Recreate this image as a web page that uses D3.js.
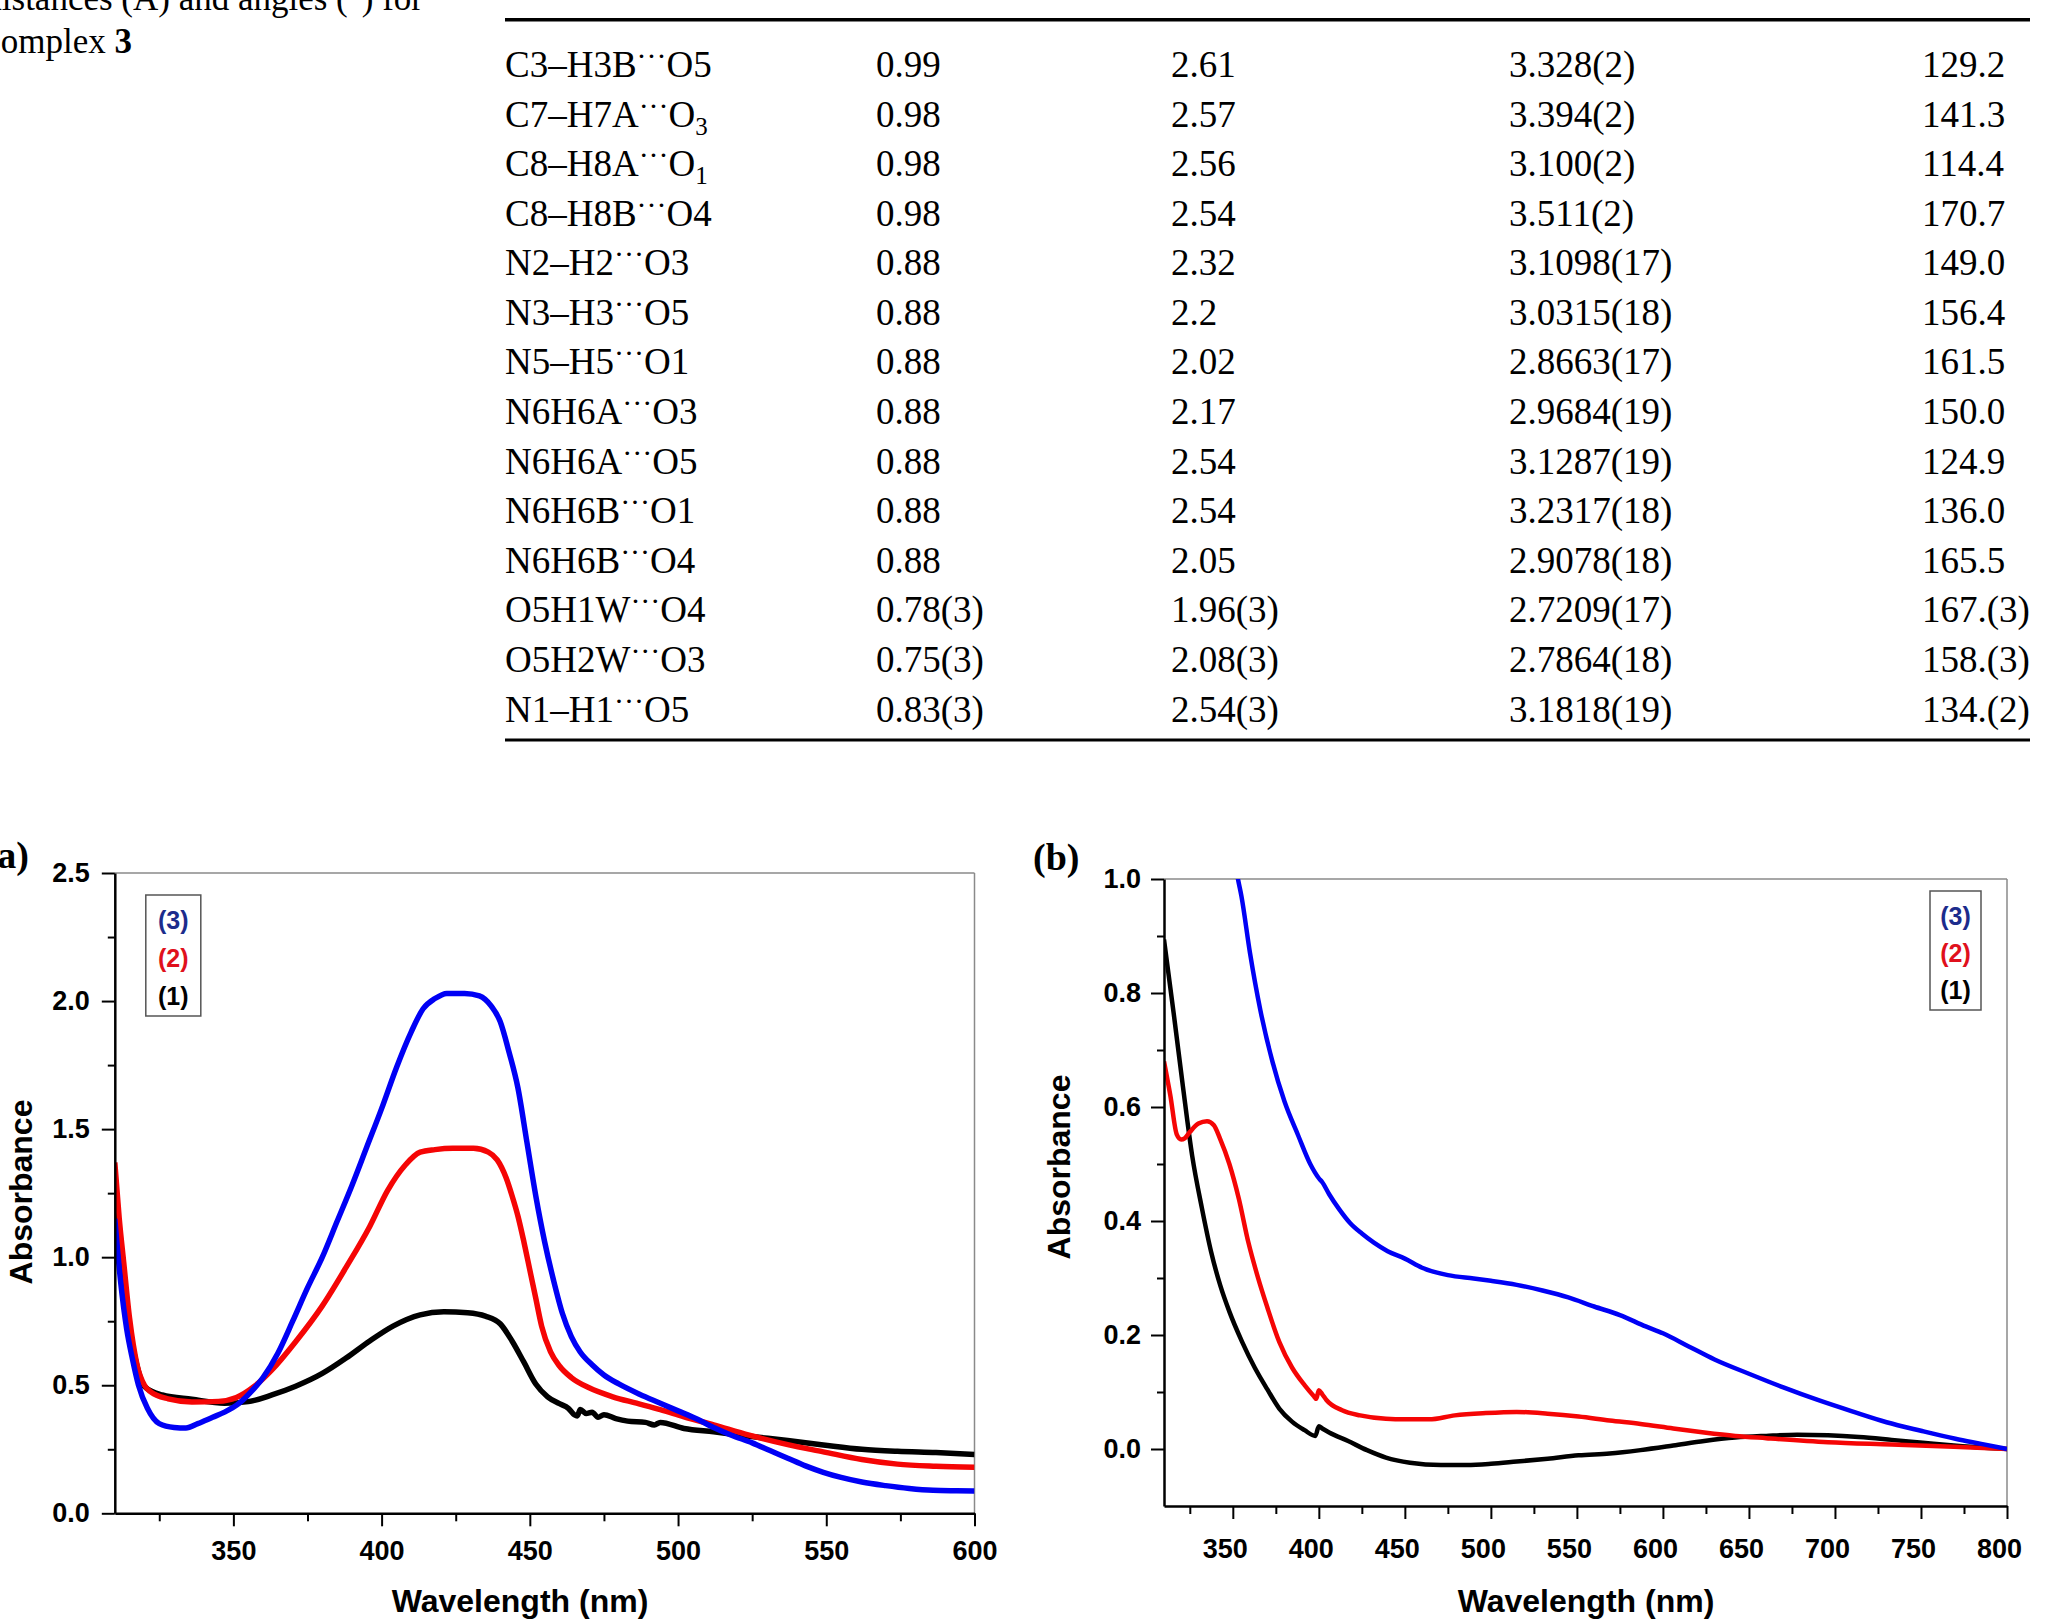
<!DOCTYPE html>
<html>
<head>
<meta charset="utf-8">
<script src="https://cdn.jsdelivr.net/npm/d3@7"></script>
<style>
  body { margin: 0; background: #fff; }
  svg { display: block; background: #fff; }
  .tick text { font-family: "Liberation Sans", Arial, sans-serif; font-weight: bold; font-size: 27px; fill: #000; }
  .axis path, .axis line { stroke: #000; }
  .axis-title { font-family: "Liberation Sans", Arial, sans-serif; font-weight: bold; font-size: 32px; fill: #000; }
  .legend-text { font-family: "Liberation Sans", Arial, sans-serif; font-weight: bold; font-size: 25px; }
  .serif { font-family: "Liberation Serif", "Times New Roman", serif; font-size: 37px; fill: #000; }
  .caption { font-family: "Liberation Serif", "Times New Roman", serif; font-size: 35px; fill: #000; }
  .panel-label { font-family: "Liberation Serif", "Times New Roman", serif; font-weight: bold; font-size: 38px; }
</style>
</head>
<body>
<svg id="figure" width="2059" height="1623"></svg>
<script>

// ---- table data (hydrogen bonds, complex 3) ----
const bondDonor = ["C3–H3B","C7–H7A","C8–H8A","C8–H8B","N2–H2","N3–H3","N5–H5","N6H6A","N6H6A","N6H6B","N6H6B","O5H1W","O5H2W","N1–H1"];
const bondAcceptor = ["O5","O","O","O4","O3","O5","O1","O3","O5","O1","O4","O4","O3","O5"];
const acceptorSub = ["","3","1","","","","","","","","","","",""];
const distDH = ["0.99","0.98","0.98","0.98","0.88","0.88","0.88","0.88","0.88","0.88","0.88","0.78(3)","0.75(3)","0.83(3)"];
const distHA = ["2.61","2.57","2.56","2.54","2.32","2.2","2.02","2.17","2.54","2.54","2.05","1.96(3)","2.08(3)","2.54(3)"];
const distDA = ["3.328(2)","3.394(2)","3.100(2)","3.511(2)","3.1098(17)","3.0315(18)","2.8663(17)","2.9684(19)","3.1287(19)","3.2317(18)","2.9078(18)","2.7209(17)","2.7864(18)","3.1818(19)"];
const angleDHA = ["129.2","141.3","114.4","170.7","149.0","156.4","161.5","150.0","124.9","136.0","165.5","167.(3)","158.(3)","134.(2)"];

// ---- panel (a) spectra ----
const aWave3 = [310,312,314,316,318,321,325,330,334,338,343,347,352,356,360,365,370,375,380,385,390,395,400,405,410,414,418,422,428,433,437,440,443,446,449,452,455,458,461,464,467,471,475,480,487,494,500,506,512,518,525,531,537,543,549,555,562,570,578,586,594,600];
const aAbs3  = [1.15,0.9,0.72,0.6,0.5,0.41,0.35,0.335,0.333,0.35,0.375,0.395,0.43,0.475,0.53,0.625,0.75,0.88,1.0,1.14,1.28,1.43,1.58,1.74,1.88,1.97,2.01,2.03,2.03,2.02,1.98,1.92,1.8,1.66,1.45,1.24,1.06,0.91,0.78,0.69,0.63,0.58,0.54,0.505,0.465,0.43,0.40,0.37,0.335,0.305,0.275,0.245,0.215,0.185,0.16,0.14,0.122,0.108,0.097,0.09,0.088,0.087];

const aWave2 = [310,311.5,313,315,317.5,320,322,328,336,345,351,357,363,371,380,388,396,402,408,413,418,424,431,436,439,442,444,446,448,450,452,454,457,460,464,470,478,486,494,502,512,524,537,549,562,574,587,600];
const aAbs2  = [1.37,1.15,0.98,0.76,0.58,0.5,0.475,0.447,0.435,0.437,0.452,0.495,0.56,0.67,0.81,0.96,1.12,1.26,1.36,1.41,1.42,1.425,1.425,1.41,1.38,1.31,1.24,1.16,1.06,0.95,0.84,0.73,0.63,0.575,0.53,0.49,0.455,0.43,0.405,0.377,0.345,0.305,0.268,0.24,0.21,0.192,0.184,0.18];

const aWave1 = [310,311.5,313.5,315,317,320,326,336,347,355,363,371,380,388,396,404,413,421,429,435,440,444,448,452,456,460,463,465,466,467,469,471,473,475,479,483,489,492,494,502,512,524,537,549,562,574,587,600];
const aAbs1  = [1.3,1.1,0.86,0.72,0.6,0.495,0.462,0.445,0.43,0.436,0.462,0.496,0.546,0.606,0.673,0.732,0.775,0.787,0.783,0.77,0.74,0.673,0.59,0.505,0.455,0.428,0.41,0.385,0.38,0.405,0.39,0.395,0.375,0.385,0.37,0.36,0.355,0.345,0.355,0.331,0.318,0.301,0.284,0.267,0.25,0.242,0.237,0.23];

// ---- panel (b) spectra ----
const bWave3 = [348,353,355,360,366,373,380,388,395,400,402,406,412,418,425,432,440,450,460,475,490,500,515,530,545,560,575,590,600,615,630,650,670,690,710,730,750,770,785,800];
const bAbs3  = [1.1,1.0,0.97,0.87,0.77,0.68,0.61,0.55,0.5,0.475,0.468,0.447,0.42,0.397,0.378,0.362,0.347,0.334,0.318,0.305,0.299,0.295,0.288,0.278,0.266,0.25,0.235,0.215,0.203,0.18,0.157,0.132,0.108,0.086,0.066,0.047,0.032,0.018,0.009,0.0];

const bWave2 = [310,313.7,317.4,320,322,325,330,335,339,342.5,348,353.5,359,364.5,370,377,384.4,391.7,397,398.5,400,402,404.4,413.5,424,439,450,464,479,497,515,533,551,569,587,606,624,642,660,696,733,769,800];
const bAbs2  = [0.68,0.62,0.552,0.543,0.545,0.556,0.571,0.575,0.568,0.545,0.5,0.439,0.363,0.302,0.249,0.188,0.143,0.112,0.093,0.088,0.103,0.096,0.086,0.068,0.059,0.053,0.052,0.052,0.059,0.063,0.065,0.062,0.057,0.05,0.044,0.036,0.029,0.023,0.019,0.012,0.008,0.004,0.0];

const bWave1 = [310,315.6,321,326.4,332,337.3,342.7,348,355.4,362.7,370,377,384.4,391.7,398,400,402,406,417,428,439,453,471,486,500,515,533,551,569,587,606,624,642,660,678,696,714,733,751,769,787,800];
const bAbs1  = [0.894,0.765,0.636,0.514,0.423,0.347,0.287,0.241,0.188,0.143,0.105,0.071,0.048,0.033,0.023,0.04,0.036,0.029,0.014,-0.002,-0.015,-0.024,-0.028,-0.028,-0.026,-0.022,-0.017,-0.011,-0.008,-0.002,0.006,0.014,0.02,0.023,0.025,0.024,0.021,0.016,0.011,0.006,0.002,0.0];

const seriesNames = ["(3)", "(2)", "(1)"];
const lineColors = ["#0000f5", "#f50505", "#000000"];
const legendColors = ["#1c2c8c", "#e0101c", "#000000"];

class SpectrumChart {

  constructor(_config, _data) {
    this.config = {
      parentElement: _config.parentElement,
      id: _config.id,
      left: _config.left,
      top: _config.top,
      width: _config.width,
      height: _config.height,
      xDomain: _config.xDomain,
      yDomain: _config.yDomain,
      xMajor: _config.xMajor,
      xMinor: _config.xMinor,
      yMajor: _config.yMajor,
      yMinor: _config.yMinor,
      xPad: _config.xPad || 16,
      yPad: _config.yPad || 12,
      xLabelShift: _config.xLabelShift || 0,
      lineWidth: _config.lineWidth || 5,
      legend: _config.legend
    };
    this.data = _data;
    this.initVis();
  }

  initVis() {
    let vis = this;
    const c = vis.config;

    vis.chart = d3.select(c.parentElement).append('g')
        .attr('transform', `translate(${c.left},${c.top})`);

    vis.xScale = d3.scaleLinear().domain(c.xDomain).range([0, c.width]);
    vis.yScale = d3.scaleLinear().domain(c.yDomain).range([c.height, 0]);

    // thin grey frame on top and right
    vis.chart.append('line')
        .attr('x1', 0).attr('x2', c.width).attr('y1', 0).attr('y2', 0)
        .attr('stroke', '#8a8a8a').attr('stroke-width', 1.5);
    vis.chart.append('line')
        .attr('x1', c.width).attr('x2', c.width).attr('y1', 0).attr('y2', c.height)
        .attr('stroke', '#8a8a8a').attr('stroke-width', 1.5);

    // clip the spectra to the plot area
    vis.chart.append('clipPath').attr('id', `clip-${c.id}`)
      .append('rect').attr('width', c.width).attr('height', c.height);

    vis.lineGen = d3.line()
        .x(d => vis.xScale(d[0]))
        .y(d => vis.yScale(d[1]))
        .curve(d3.curveMonotoneX);

    vis.renderVis();
    vis.renderAxes();
    vis.renderLegend();
  }

  renderVis() {
    let vis = this;
    // draw black first so blue sits on top, like the original
    const order = [2, 1, 0];
    vis.chart.append('g')
        .attr('clip-path', `url(#clip-${vis.config.id})`)
      .selectAll('.spectrum')
      .data(order.map(i => vis.data[i]))
      .join('path')
        .attr('class', 'spectrum')
        .attr('fill', 'none')
        .attr('stroke', d => d.color)
        .attr('stroke-width', vis.config.lineWidth)
        .attr('stroke-linejoin', 'round')
        .attr('d', d => vis.lineGen(d.wave.map((w, k) => [w, d.abs[k]])));
  }

  renderAxes() {
    let vis = this;
    const c = vis.config;

    // minor ticks first (no labels, no domain)
    const xMinorG = vis.chart.append('g')
        .attr('class', 'axis')
        .attr('transform', `translate(0,${c.height})`)
        .call(d3.axisBottom(vis.xScale).tickValues(c.xMinor).tickSize(8).tickFormat(''));
    xMinorG.select('.domain').remove();
    xMinorG.selectAll('line').attr('stroke-width', 2);

    const yMinorG = vis.chart.append('g')
        .attr('class', 'axis')
        .call(d3.axisLeft(vis.yScale).tickValues(c.yMinor).tickSize(7).tickFormat(''));
    yMinorG.select('.domain').remove();
    yMinorG.selectAll('line').attr('stroke-width', 2);

    const xAxisG = vis.chart.append('g')
        .attr('class', 'axis')
        .attr('transform', `translate(0,${c.height})`)
        .call(d3.axisBottom(vis.xScale).tickValues(c.xMajor).tickSize(13)
            .tickSizeOuter(0).tickPadding(c.xPad).tickFormat(d3.format('d')));
    xAxisG.select('.domain').attr('stroke-width', 2.5);
    xAxisG.selectAll('line').attr('stroke-width', 2);
    xAxisG.selectAll('text').attr('dx', c.xLabelShift);

    const yAxisG = vis.chart.append('g')
        .attr('class', 'axis')
        .call(d3.axisLeft(vis.yScale).tickValues(c.yMajor).tickSize(13)
            .tickSizeOuter(0).tickPadding(c.yPad).tickFormat(d3.format('.1f')));
    yAxisG.select('.domain').attr('stroke-width', 2.5);
    yAxisG.selectAll('line').attr('stroke-width', 2);
  }

  renderLegend() {
    let vis = this;
    const lg = vis.config.legend;

    const legendArea = vis.chart.append('g')
        .attr('transform', `translate(${lg.x},${lg.y})`);

    legendArea.append('rect')
        .attr('width', lg.w).attr('height', lg.h)
        .attr('fill', 'none').attr('stroke', '#555').attr('stroke-width', 1.5);

    legendArea.selectAll('.legend-text')
      .data(vis.data)
      .join('text')
        .attr('class', 'legend-text')
        .attr('x', lg.w / 2)
        .attr('y', (d, i) => lg.firstBaseline + i * lg.step)
        .attr('text-anchor', 'middle')
        .attr('fill', d => d.legendColor)
        .text(d => d.name);
  }
}

function buildSeries(waves, values) {
  return seriesNames.map((name, i) => ({
    name: name,
    color: lineColors[i],
    legendColor: legendColors[i],
    wave: waves[i],
    abs: values[i]
  }));
}

const svg = d3.select('#figure');

// ---- caption fragment, top left (cut by the page edge, as in the source) ----
svg.append('text').attr('class', 'caption')
    .attr('x', 423).attr('y', 10).attr('text-anchor', 'end')
    .text('Hydrogen bond distances (Å) and angles (°) for');
const cap2 = svg.append('text').attr('class', 'caption')
    .attr('x', 132).attr('y', 53).attr('text-anchor', 'end');
cap2.append('tspan').text('Complex ');
cap2.append('tspan').attr('font-weight', 'bold').text('3');

// ---- table ----
const tableG = svg.append('g');
tableG.append('rect').attr('x', 505).attr('y', 18).attr('width', 1525).attr('height', 3.5).attr('fill', '#000');
tableG.append('rect').attr('x', 505).attr('y', 738.5).attr('width', 1525).attr('height', 3).attr('fill', '#000');

const rowY = d3.scaleLinear().domain([0, bondDonor.length - 1]).range([77, 721.5]);
const colX = [505, 876, 1171, 1509, 1922];

bondDonor.forEach((donor, i) => {
  const t = tableG.append('text').attr('class', 'serif')
      .attr('x', colX[0]).attr('y', rowY(i));
  t.append('tspan').text(donor);
  t.append('tspan').attr('dy', -11).attr('font-size', 30).text('···');
  t.append('tspan').attr('dy', 11).text(bondAcceptor[i]);
  if (acceptorSub[i]) {
    t.append('tspan').attr('dy', 8).attr('font-size', 25).text(acceptorSub[i]);
  }
  [distDH, distHA, distDA, angleDHA].forEach((col, j) => {
    tableG.append('text').attr('class', 'serif')
        .attr('x', colX[j + 1]).attr('y', rowY(i))
        .text(col[i]);
  });
});

// ---- panel (a) ----
new SpectrumChart({
  parentElement: '#figure',
  id: 'a',
  left: 114.8, top: 873, width: 859.7, height: 640.3,
  xDomain: [310, 600], yDomain: [0, 2.5],
  xMajor: [350, 400, 450, 500, 550, 600],
  xMinor: [325, 375, 425, 475, 525, 575],
  yMajor: [0, 0.5, 1.0, 1.5, 2.0, 2.5],
  yMinor: [0.25, 0.75, 1.25, 1.75, 2.25],
  xPad: 15, yPad: 12, lineWidth: 5.5,
  legend: {x: 31, y: 22, w: 55, h: 121, firstBaseline: 34, step: 38}
}, buildSeries([aWave3, aWave2, aWave1], [aAbs3, aAbs2, aAbs1]));

// ---- panel (b) ----
new SpectrumChart({
  parentElement: '#figure',
  id: 'b',
  left: 1164, top: 879, width: 843, height: 627,
  xDomain: [310, 800], yDomain: [-0.1, 1.0],
  xMajor: [350, 400, 450, 500, 550, 600, 650, 700, 750, 800],
  xMinor: [325, 375, 425, 475, 525, 575, 625, 675, 725, 775],
  yMajor: [0, 0.2, 0.4, 0.6, 0.8, 1.0],
  yMinor: [0.1, 0.3, 0.5, 0.7, 0.9],
  xPad: 20, yPad: 10, xLabelShift: -8, lineWidth: 4.5,
  legend: {x: 766, y: 12, w: 51, h: 119, firstBaseline: 34, step: 37}
}, buildSeries([bWave3, bWave2, bWave1], [bAbs3, bAbs2, bAbs1]));

// ---- axis titles and panel labels ----
svg.append('text').attr('class', 'axis-title')
    .attr('x', 520).attr('y', 1612).attr('text-anchor', 'middle')
    .text('Wavelength (nm)');
svg.append('text').attr('class', 'axis-title')
    .attr('x', 1586).attr('y', 1612).attr('text-anchor', 'middle')
    .text('Wavelength (nm)');
svg.append('text').attr('class', 'axis-title')
    .attr('transform', 'translate(32,1192) rotate(-90)').attr('text-anchor', 'middle')
    .text('Absorbance');
svg.append('text').attr('class', 'axis-title')
    .attr('transform', 'translate(1070,1167) rotate(-90)').attr('text-anchor', 'middle')
    .text('Absorbance');

svg.append('text').attr('class', 'panel-label')
    .attr('x', 29).attr('y', 868).attr('text-anchor', 'end').text('(a)');
svg.append('text').attr('class', 'panel-label')
    .attr('x', 1033).attr('y', 870).text('(b)');

</script>
</body>
</html>
